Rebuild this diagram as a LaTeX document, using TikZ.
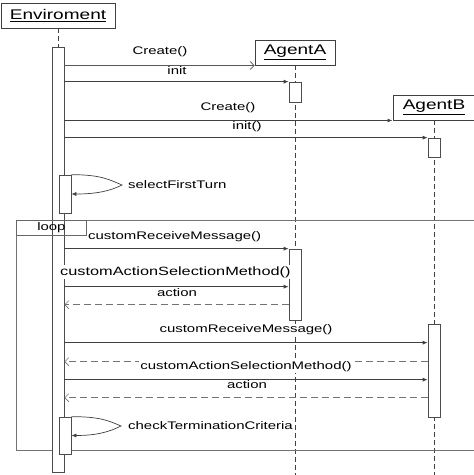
\documentclass[tikz,border=0pt]{standalone}
\usepackage{fontspec}
\setmainfont{Liberation Sans}[FakeStretch=1.36]
\usetikzlibrary{arrows.meta}

\begin{document}
\begin{tikzpicture}[
        x=1pt, y=-1pt,
        head/.style={draw=black!75, line width=0.9pt, minimum height=25pt, inner sep=0pt, fill=white, font=\fontsize{14}{16}\selectfont},
        bar/.style={draw=black!70, line width=0.7pt, fill=white, minimum width=12pt, inner sep=0pt},
        lifeline/.style={draw=black!75, line width=0.9pt, dash pattern=on 5pt off 3pt},
        frame/.style={draw=black!55, line width=0.9pt},
        tag/.style={draw=black!60, line width=0.8pt, minimum width=70pt, minimum height=15pt, inner sep=0pt, font=\fontsize{11}{13}\selectfont},
        call/.style={-{Latex[length=5pt,width=4pt]}, draw=black!75, line width=0.7pt},
        create/.style={-{Straight Barb[length=4pt,width=8pt]}, draw=black!65, line width=0.7pt},
        reply/.style={-{Straight Barb[length=4pt,width=8pt]}, draw=black!55, line width=0.7pt, dash pattern=on 7pt off 4pt},
        lbl/.style={fill=white, inner sep=1pt, font=\fontsize{11}{13}\selectfont}
    ]
        \useasboundingbox (0,0) rectangle (474,475);

        % object heads
        \node[head, minimum width=114pt] (env) at (58,15.5) {\underline{Enviroment}};
        \node[head, minimum width=80pt] (agentA) at (295,52.5) {\underline{AgentA}};
        \node[head, minimum width=82pt] (agentB) at (434,107.5) {\underline{AgentB}};

        % lifelines
        \coordinate (envEnd) at (58,475);
        \coordinate (aEnd) at (295,475);
        \coordinate (bEnd) at (434,475);
        \draw[lifeline] (env.south) -- (envEnd);
        \draw[lifeline] (agentA.south) -- (aEnd);
        \draw[lifeline] (agentB.south) -- (bEnd);

        % loop fragment
        \draw[frame] (16,220) rectangle (480,450);

        % activations
        \node[bar, minimum height=425pt] (envbar) at (58,259.5) {};
        \node[bar, minimum height=20pt] (actA1) at (295,92) {};
        \node[bar, minimum height=19pt] (actB1) at (434,147.5) {};
        \node[bar, minimum height=38pt] (envsel) at (65,194) {};
        \node[bar, minimum height=71pt] (actA2) at (295,284.5) {};
        \node[bar, minimum height=93pt] (actB2) at (434,370.5) {};
        \node[bar, minimum height=37pt] (envchk) at (65,435.5) {};

        \node[tag, anchor=north west] (looptag) at (16,220) {loop};

        % creation and init
        \draw[create] (envbar.east |- agentA.south west) -- (agentA.south west);
        \node[lbl] (createA) at (160,52) {Create()};
        \draw[call] (envbar.east |- actA1.north west) -- (actA1.north west);
        \node[lbl] (initA) at (177,71) {init};
        \draw[call, line width=1.1pt] (envbar.east |- agentB.south west) -- (agentB.south west);
        \node[lbl] (createB) at (228,108) {Create()};
        \draw[call] (envbar.east |- actB1.north west) -- (actB1.north west);
        \node[lbl] (initB) at (247,127) {init()};

        % first turn
        \coordinate (selTip) at (122,185);
        \draw[call] (envsel.north east) .. controls +(30,0) and +(-12,-5) .. (selTip)
            .. controls +(-12,6) and +(25,0) .. (envsel.east);
        \node[lbl, anchor=west] (selLbl) at (127,185) {selectFirstTurn};

        % loop with AgentA
        \coordinate (a1) at ([yshift=-38pt]actA2.north west);
        \coordinate (a2) at ([yshift=-56pt]actA2.north west);
        \draw[call] (envbar.east |- actA2.north west) -- (actA2.north west);
        \node[lbl, anchor=west] (recvA) at (87,237) {customReceiveMessage()};
        \draw[call] (envbar.east |- a1) -- (a1);
        \node[lbl, anchor=west, font=\fontsize{12}{14}\selectfont] (selA) at (59,272) {customActionSelectionMethod()};
        \node[lbl] (actionA) at (177,293) {action};
        \draw[reply] (a2) -- (envbar.east |- a2);

        % loop with AgentB
        \coordinate (b1) at ([yshift=-19pt]actB2.north west);
        \coordinate (b2) at ([yshift=-38pt]actB2.north west);
        \coordinate (b3) at ([yshift=-56pt]actB2.north west);
        \coordinate (b4) at ([yshift=-74pt]actB2.north west);
        \node[lbl] (recvB) at (246,330) {customReceiveMessage()};
        \draw[call] (envbar.east |- b1) -- (b1);
        \draw[reply] (b2) -- (envbar.east |- b2);
        \node[lbl] (selB) at (246,367) {customActionSelectionMethod()};
        \draw[call] (envbar.east |- b3) -- (b3);
        \node[lbl] (actionB) at (247,385) {action};
        \draw[reply] (b4) -- (envbar.east |- b4);

        % termination check
        \coordinate (chkTip) at (121,426);
        \draw[call] (envchk.north east) .. controls +(30,0) and +(-12,-5) .. (chkTip)
            .. controls +(-12,6) and +(25,0) .. (envchk.east);
        \node[lbl, anchor=west] (chkLbl) at (127,426) {checkTerminationCriteria};
    \end{tikzpicture}
\end{document}
